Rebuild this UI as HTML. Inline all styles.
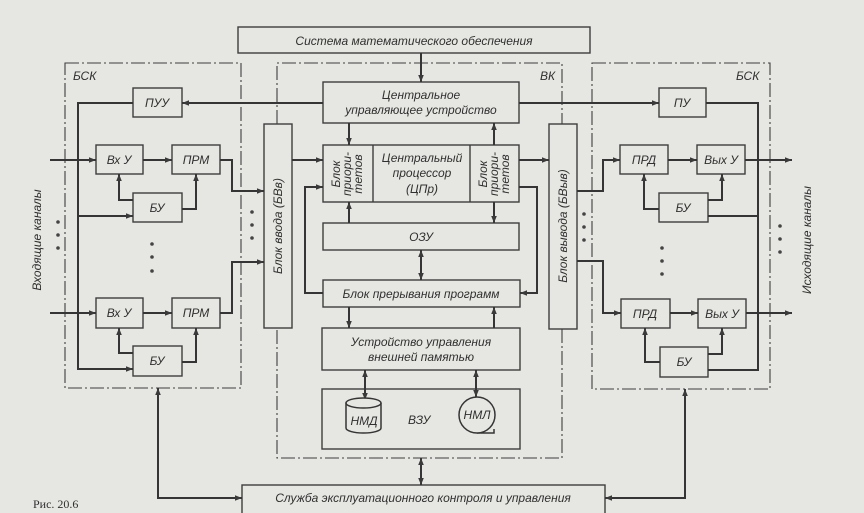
<!DOCTYPE html>
<html><head><meta charset="utf-8"><style>
html,body{margin:0;padding:0;background:#e6e6e2;}
svg{display:block}
text{font-family:"Liberation Sans","DejaVu Sans",sans-serif;font-style:italic;fill:#303030;font-size:12px;}
</style></head><body>
<svg width="864" height="513" viewBox="0 0 864 513" xmlns="http://www.w3.org/2000/svg">
<defs>
<marker id="a" viewBox="0 0 10 10" refX="10" refY="5" markerWidth="9" markerHeight="7" orient="auto-start-reverse" markerUnits="userSpaceOnUse"><path d="M0,1 L10,5 L0,9 z" fill="#3a3a3a"/></marker>
</defs>
<rect width="864" height="513" fill="#e6e6e2"/>
<g fill="none" stroke="#3e3e3e" stroke-width="1.4">
<g stroke-dasharray="14,3,2,3" stroke-width="1.1">
<rect x="65" y="63" width="176" height="325"/>
<rect x="592" y="63" width="178" height="326"/>
<path d="M277,124 V63 H562 V124 M562,329 V458 H277 V329"/>
</g>
<rect x="238" y="27" width="352" height="26"/>
<rect x="323" y="82" width="196" height="41"/>
<rect x="323" y="145" width="196" height="57"/>
<line x1="373" y1="145" x2="373" y2="202"/>
<line x1="470" y1="145" x2="470" y2="202"/>
<rect x="323" y="223" width="196" height="27"/>
<rect x="323" y="280" width="197" height="27"/>
<rect x="322" y="328" width="198" height="42"/>
<rect x="322" y="389" width="198" height="60"/>
<rect x="242" y="485" width="363" height="40"/>
<rect x="264" y="124" width="28" height="204"/>
<rect x="549" y="124" width="28" height="205"/>
<rect x="133" y="88" width="49" height="29"/>
<rect x="96" y="145" width="47" height="29"/>
<rect x="172" y="145" width="48" height="29"/>
<rect x="133" y="193" width="49" height="29"/>
<rect x="96" y="298" width="47" height="30"/>
<rect x="172" y="298" width="48" height="30"/>
<rect x="133" y="346" width="49" height="30"/>
<rect x="659" y="88" width="47" height="29"/>
<rect x="620" y="145" width="48" height="29"/>
<rect x="697" y="145" width="48" height="29"/>
<rect x="659" y="193" width="49" height="29"/>
<rect x="621" y="299" width="49" height="29"/>
<rect x="698" y="299" width="48" height="29"/>
<rect x="660" y="347" width="48" height="30"/>
</g>
<g fill="none" stroke="#353535" stroke-width="2">
<path d="M133,103 H78 V369 H133" marker-end="url(#a)"/>
<path d="M323,103 H182" marker-end="url(#a)"/>
<path d="M50,160 H96" marker-end="url(#a)"/>
<path d="M50,313 H96" marker-end="url(#a)"/>
<path d="M143,160 H172" marker-end="url(#a)"/>
<path d="M143,313 H172" marker-end="url(#a)"/>
<path d="M78,216 H133" marker-end="url(#a)"/>
<path d="M220,160 H232 V191 H264" marker-end="url(#a)"/>
<path d="M220,313 H232 V262 H264" marker-end="url(#a)"/>
<path d="M133,200 H119 V174" marker-end="url(#a)"/>
<path d="M182,209 H196 V174" marker-end="url(#a)"/>
<path d="M133,353 H119 V328" marker-end="url(#a)"/>
<path d="M182,362 H196 V328" marker-end="url(#a)"/>
<path d="M421,53 V82" marker-end="url(#a)"/>
<path d="M292,160 H323" marker-end="url(#a)"/>
<path d="M323,293 H305 V187 H323" marker-end="url(#a)"/>
<path d="M519,187 H537 V293 H520" marker-end="url(#a)"/>
<path d="M519,160 H549" marker-end="url(#a)"/>
<path d="M349,123 V145" marker-end="url(#a)"/>
<path d="M494,145 V123" marker-end="url(#a)"/>
<path d="M349,223 V202" marker-end="url(#a)"/>
<path d="M494,202 V223" marker-end="url(#a)"/>
<path d="M421,250 V280" marker-start="url(#a)" marker-end="url(#a)"/>
<path d="M349,307 V328" marker-end="url(#a)"/>
<path d="M494,328 V307" marker-end="url(#a)"/>
<path d="M365,370 V400" marker-start="url(#a)" marker-end="url(#a)"/>
<path d="M476,370 V397" marker-start="url(#a)" marker-end="url(#a)"/>
<path d="M421,458 V485" marker-start="url(#a)" marker-end="url(#a)"/>
<path d="M158,388 V498 H242" marker-start="url(#a)" marker-end="url(#a)"/>
<path d="M685,389 V498 H605" marker-start="url(#a)" marker-end="url(#a)"/>
<path d="M519,103 H659" marker-end="url(#a)"/>
<path d="M706,103 H758 V370 H708"/>
<path d="M708,216 H758"/>
<path d="M668,160 H697" marker-end="url(#a)"/>
<path d="M670,313 H698" marker-end="url(#a)"/>
<path d="M745,160 H792" marker-end="url(#a)"/>
<path d="M746,313 H792" marker-end="url(#a)"/>
<path d="M577,191 H603 V160 H620" marker-end="url(#a)"/>
<path d="M577,261 H603 V313 H621" marker-end="url(#a)"/>
<path d="M659,209 H644 V174" marker-end="url(#a)"/>
<path d="M708,200 H722 V174" marker-end="url(#a)"/>
<path d="M660,362 H645 V328" marker-end="url(#a)"/>
<path d="M708,354 H722 V328" marker-end="url(#a)"/>
</g>
<g fill="#e6e6e2" stroke="#353535" stroke-width="1.5">
<path d="M346,403 V428 A17.5,5 0 0 0 381,428 V403"/>
<ellipse cx="363.5" cy="403" rx="17.5" ry="5"/>
<path d="M477,433 H494 V429" fill="none"/>
<circle cx="477" cy="415" r="18"/>
</g>
<g fill="#444">
<circle cx="152" cy="244" r="1.8"/><circle cx="152" cy="257" r="1.8"/><circle cx="152" cy="271" r="1.8"/>
<circle cx="252" cy="212" r="1.8"/><circle cx="252" cy="225" r="1.8"/><circle cx="252" cy="238" r="1.8"/>
<circle cx="58" cy="222" r="1.8"/><circle cx="58" cy="235" r="1.8"/><circle cx="58" cy="248" r="1.8"/>
<circle cx="584" cy="214" r="1.8"/><circle cx="584" cy="227" r="1.8"/><circle cx="584" cy="240" r="1.8"/>
<circle cx="662" cy="248" r="1.8"/><circle cx="662" cy="261" r="1.8"/><circle cx="662" cy="274" r="1.8"/>
<circle cx="780" cy="226" r="1.8"/><circle cx="780" cy="239" r="1.8"/><circle cx="780" cy="252" r="1.8"/>
</g>
<text x="414" y="45" text-anchor="middle" font-size="13.5">Система математического обеспечения</text>
<text x="73" y="80">БСК</text>
<text x="540" y="80">ВК</text>
<text x="736" y="80">БСК</text>
<text x="421" y="99" text-anchor="middle" font-size="13">Центральное</text>
<text x="421" y="114" text-anchor="middle" font-size="13">управляющее устройство</text>
<text x="422" y="162" text-anchor="middle" font-size="13">Центральный</text>
<text x="422" y="177" text-anchor="middle" font-size="13">процессор</text>
<text x="422" y="193" text-anchor="middle" font-size="13">(ЦПр)</text>
<g font-size="11">
<text transform="translate(340,174) rotate(-90)" text-anchor="middle">Блок</text>
<text transform="translate(351,174) rotate(-90)" text-anchor="middle">приори-</text>
<text transform="translate(362,174) rotate(-90)" text-anchor="middle">тетов</text>
<text transform="translate(487,174) rotate(-90)" text-anchor="middle">Блок</text>
<text transform="translate(498,174) rotate(-90)" text-anchor="middle">приори-</text>
<text transform="translate(509,174) rotate(-90)" text-anchor="middle">тетов</text>
</g>
<text x="421" y="241" text-anchor="middle" font-size="13">ОЗУ</text>
<text x="421" y="298" text-anchor="middle" font-size="13">Блок прерывания программ</text>
<text x="421" y="346" text-anchor="middle" font-size="13">Устройство управления</text>
<text x="421" y="361" text-anchor="middle" font-size="13">внешней памятью</text>
<text x="364" y="425" text-anchor="middle" font-size="11">НМД</text>
<text x="408" y="424" font-size="13">ВЗУ</text>
<text x="477" y="419" text-anchor="middle" font-size="11">НМЛ</text>
<text x="423" y="502" text-anchor="middle" font-size="13">Служба эксплуатационного контроля и управления</text>
<text transform="translate(282,226) rotate(-90)" text-anchor="middle" font-size="13">Блок ввода (БВв)</text>
<text transform="translate(567,226) rotate(-90)" text-anchor="middle" font-size="13">Блок вывода (БВыв)</text>
<text transform="translate(41,240) rotate(-90)" text-anchor="middle" font-size="13">Входящие каналы</text>
<text transform="translate(811,240) rotate(-90)" text-anchor="middle" font-size="13">Исходящие каналы</text>
<text x="157" y="107" text-anchor="middle">ПУУ</text>
<text x="119" y="164" text-anchor="middle">Вх У</text>
<text x="196" y="164" text-anchor="middle">ПРМ</text>
<text x="157" y="212" text-anchor="middle">БУ</text>
<text x="119" y="317" text-anchor="middle">Вх У</text>
<text x="196" y="317" text-anchor="middle">ПРМ</text>
<text x="157" y="365" text-anchor="middle">БУ</text>
<text x="682" y="107" text-anchor="middle">ПУ</text>
<text x="644" y="164" text-anchor="middle">ПРД</text>
<text x="721" y="164" text-anchor="middle">Вых У</text>
<text x="683" y="212" text-anchor="middle">БУ</text>
<text x="645" y="318" text-anchor="middle">ПРД</text>
<text x="722" y="318" text-anchor="middle">Вых У</text>
<text x="684" y="366" text-anchor="middle">БУ</text>
<text x="33" y="508" style="font-family:'Liberation Serif',serif;font-style:normal" font-size="13">Рис. 20.6</text>
</svg>
</body></html>
